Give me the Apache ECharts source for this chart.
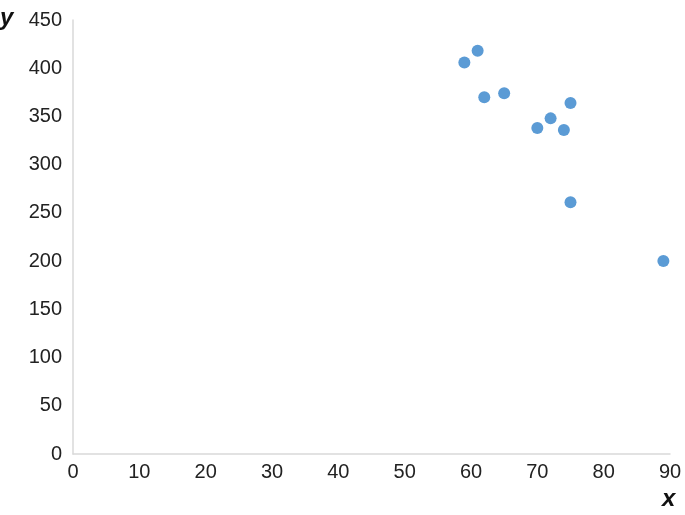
<!DOCTYPE html>
<html style="height: 100%">
<head>
	<meta charset="utf-8">
	<title></title>
	<script type="text/javascript" src="https://cdn.jsdelivr.net/npm/echarts@6/dist/echarts.min.js"></script>
</head>
<body style="height: 100%; margin: 0">
<div id="container" style="width: 685px; height: 515px"></div>
<script type="text/javascript">
	var xValues = [59, 61, 62, 65, 70, 72, 74, 75, 75, 89];
	var yValues = [406, 418, 370, 374, 338, 348, 336, 364, 261, 200];

	var points = [];
	for (var i = 0; i < xValues.length; i++) {
		points.push([xValues[i], yValues[i]]);
	}

	var myChart = echarts.init(document.getElementById('container'));
	var labelFont = {color: '#222', fontSize: 20, fontFamily: 'Liberation Sans, Arial, sans-serif'};

	var option = {
		animation: false,
		grid: {left: 73, right: 15, top: 20, bottom: 61, containLabel: false},
		xAxis: {
			type: 'value', min: 0, max: 90, interval: 10,
			axisLine: {lineStyle: {color: '#d9d9d9', width: 1.5}},
			axisTick: {show: false},
			splitLine: {show: false},
			axisLabel: Object.assign({margin: 8}, labelFont)
		},
		yAxis: {
			type: 'value', min: 0, max: 450, interval: 50,
			axisLine: {show: true, lineStyle: {color: '#d9d9d9', width: 1.5}},
			axisTick: {show: false},
			splitLine: {show: false},
			axisLabel: Object.assign({margin: 11}, labelFont)
		},
		graphic: [
			{type: 'text', x: 0, y: 6, style: {text: 'y', font: 'italic bold 24px Liberation Sans, Arial, sans-serif', fill: '#111'}},
			{type: 'text', x: 662, y: 487, style: {text: 'x', font: 'italic bold 24px Liberation Sans, Arial, sans-serif', fill: '#111'}}
		],
		series: [{
			type: 'scatter',
			data: points,
			symbolSize: 12,
			itemStyle: {color: '#5b9bd5', opacity: 1}
		}]
	};
	myChart.setOption(option);
</script>
</body>
</html>
